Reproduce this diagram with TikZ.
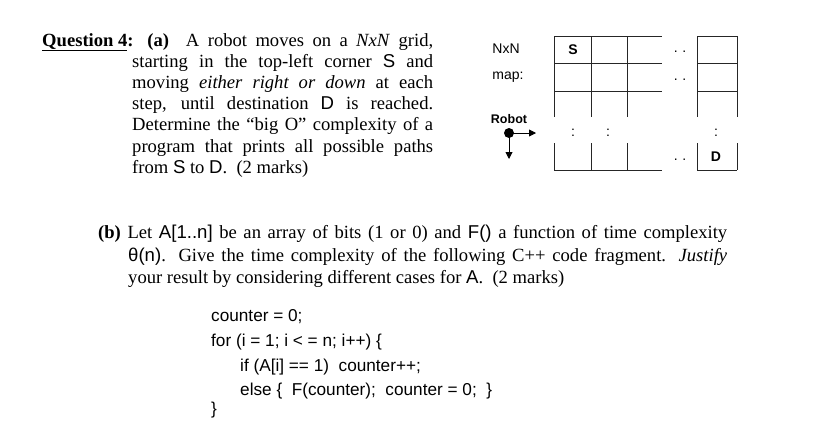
\documentclass[tikz,border=0pt]{standalone}
\usepackage{fontspec}
\setmainfont{Liberation Serif}
\setsansfont{Liberation Sans}
\usetikzlibrary{arrows.meta}
\begin{document}
\begin{tikzpicture}[x=1pt,y=-1pt,
  txt/.style={anchor=base west,inner sep=0pt,font=\fontsize{18.6}{20}\selectfont},
  code/.style={anchor=base west,inner sep=0pt,font=\sffamily\fontsize{17.2}{20}\selectfont},
  lab/.style={inner sep=0pt,font=\sffamily\fontsize{14}{16}\selectfont},
  grid/.style={line width=0.9pt,black!85}]
\useasboundingbox[fill=white] (0,0) rectangle (813,447);
% part (a)
\node[txt] (a1) at (42,46) {\makebox[391pt][s]{\textbf{\underline{Question 4}: (a)}\ \ A robot moves on a \textit{NxN} grid,}};
\node[txt] (a2) at (132,67) {\makebox[301pt][s]{starting in the top-left corner \textsf{S} and}};
\node[txt] (a3) at (132,88) {\makebox[301pt][s]{moving \textit{either right or down} at each}};
\node[txt] (a4) at (132,109) {\makebox[301pt][s]{step, until destination \textsf{D} is reached.}};
\node[txt] (a5) at (132,130) {\makebox[301pt][s]{Determine the “big O” complexity of a}};
\node[txt] (a6) at (132,152) {\makebox[301pt][s]{program that prints all possible paths}};
\node[txt] (a7) at (132,173) {from \textsf{S} to \textsf{D}.\ \ (2 marks)};
% grid
\draw[grid] (554,36) -- (662,36) (697,36) -- (737,36);
\draw[grid] (554,63) -- (662,63) (697,63) -- (737,63);
\draw[grid] (554,91) -- (662,91) (697,91) -- (737,91);
\draw[grid] (554,170) -- (662,170) (697,170) -- (737,170);
\foreach \x in {554,591,627,697,737}{
  \draw[grid] (\x,36) -- (\x,117) (\x,143) -- (\x,170);}
\node[lab,font=\sffamily\bfseries\fontsize{14}{16}\selectfont] (S) at (573,49.5) {S};
\node[lab,font=\sffamily\bfseries\fontsize{14}{16}\selectfont] (D) at (716,156.5) {D};
\node[lab] (d1) at (680,52) {.\,\,.};
\node[lab] (d2) at (680,80) {.\,\,.};
\node[lab] (d3) at (680,160) {.\,\,.};
\node[lab] (c1) at (573,133) {:};
\node[lab] (c2) at (608,133) {:};
\node[lab] (c3) at (716,133) {:};
\node[lab] (nxn) at (506,49) {NxN};
\node[lab] (map) at (508,77) {map:};
\node[lab,font=\sffamily\bfseries\fontsize{12.5}{14}\selectfont] (robot) at (509,119) {Robot};
\node[circle,fill=black,minimum size=10pt,inner sep=0pt] (dot) at (509,133) {};
\coordinate (rt) at (536,133);
\coordinate (dn) at (509,159);
\draw[line width=0.9pt,-{Triangle[length=7pt,width=7pt]}] (dot.center) -- (rt);
\draw[line width=0.9pt,-{Triangle[length=7pt,width=7pt]}] (dot.center) -- (dn);
% part (b)
\node[txt] (b1) at (98,238) {\makebox[629pt][s]{\textbf{(b)} Let \textsf{A[1..n]} be an array of bits (1 or 0) and \textsf{F()} a function of time complexity}};
\node[txt] (b2) at (128,261) {\makebox[599pt][s]{\textsf{θ(n)}. Give the time complexity of the following C++ code fragment. \textit{Justify}}};
\node[txt] (b3) at (128,283) {your result by considering different cases for \textsf{A}.\ \ (2 marks)};
\node[code] (k1) at (211,321) {counter = 0;};
\node[code] (k2) at (211,346) {for (i = 1; i < = n; i++) \{};
\node[code] (k3) at (240,371) {if (A[i] == 1)\ \ counter++;};
\node[code] (k4) at (240,395) {else \{\ \ F(counter);\ \ counter = 0;\ \ \}};
\node[code] (k5) at (211,414) {\}};
\end{tikzpicture}
\end{document}
